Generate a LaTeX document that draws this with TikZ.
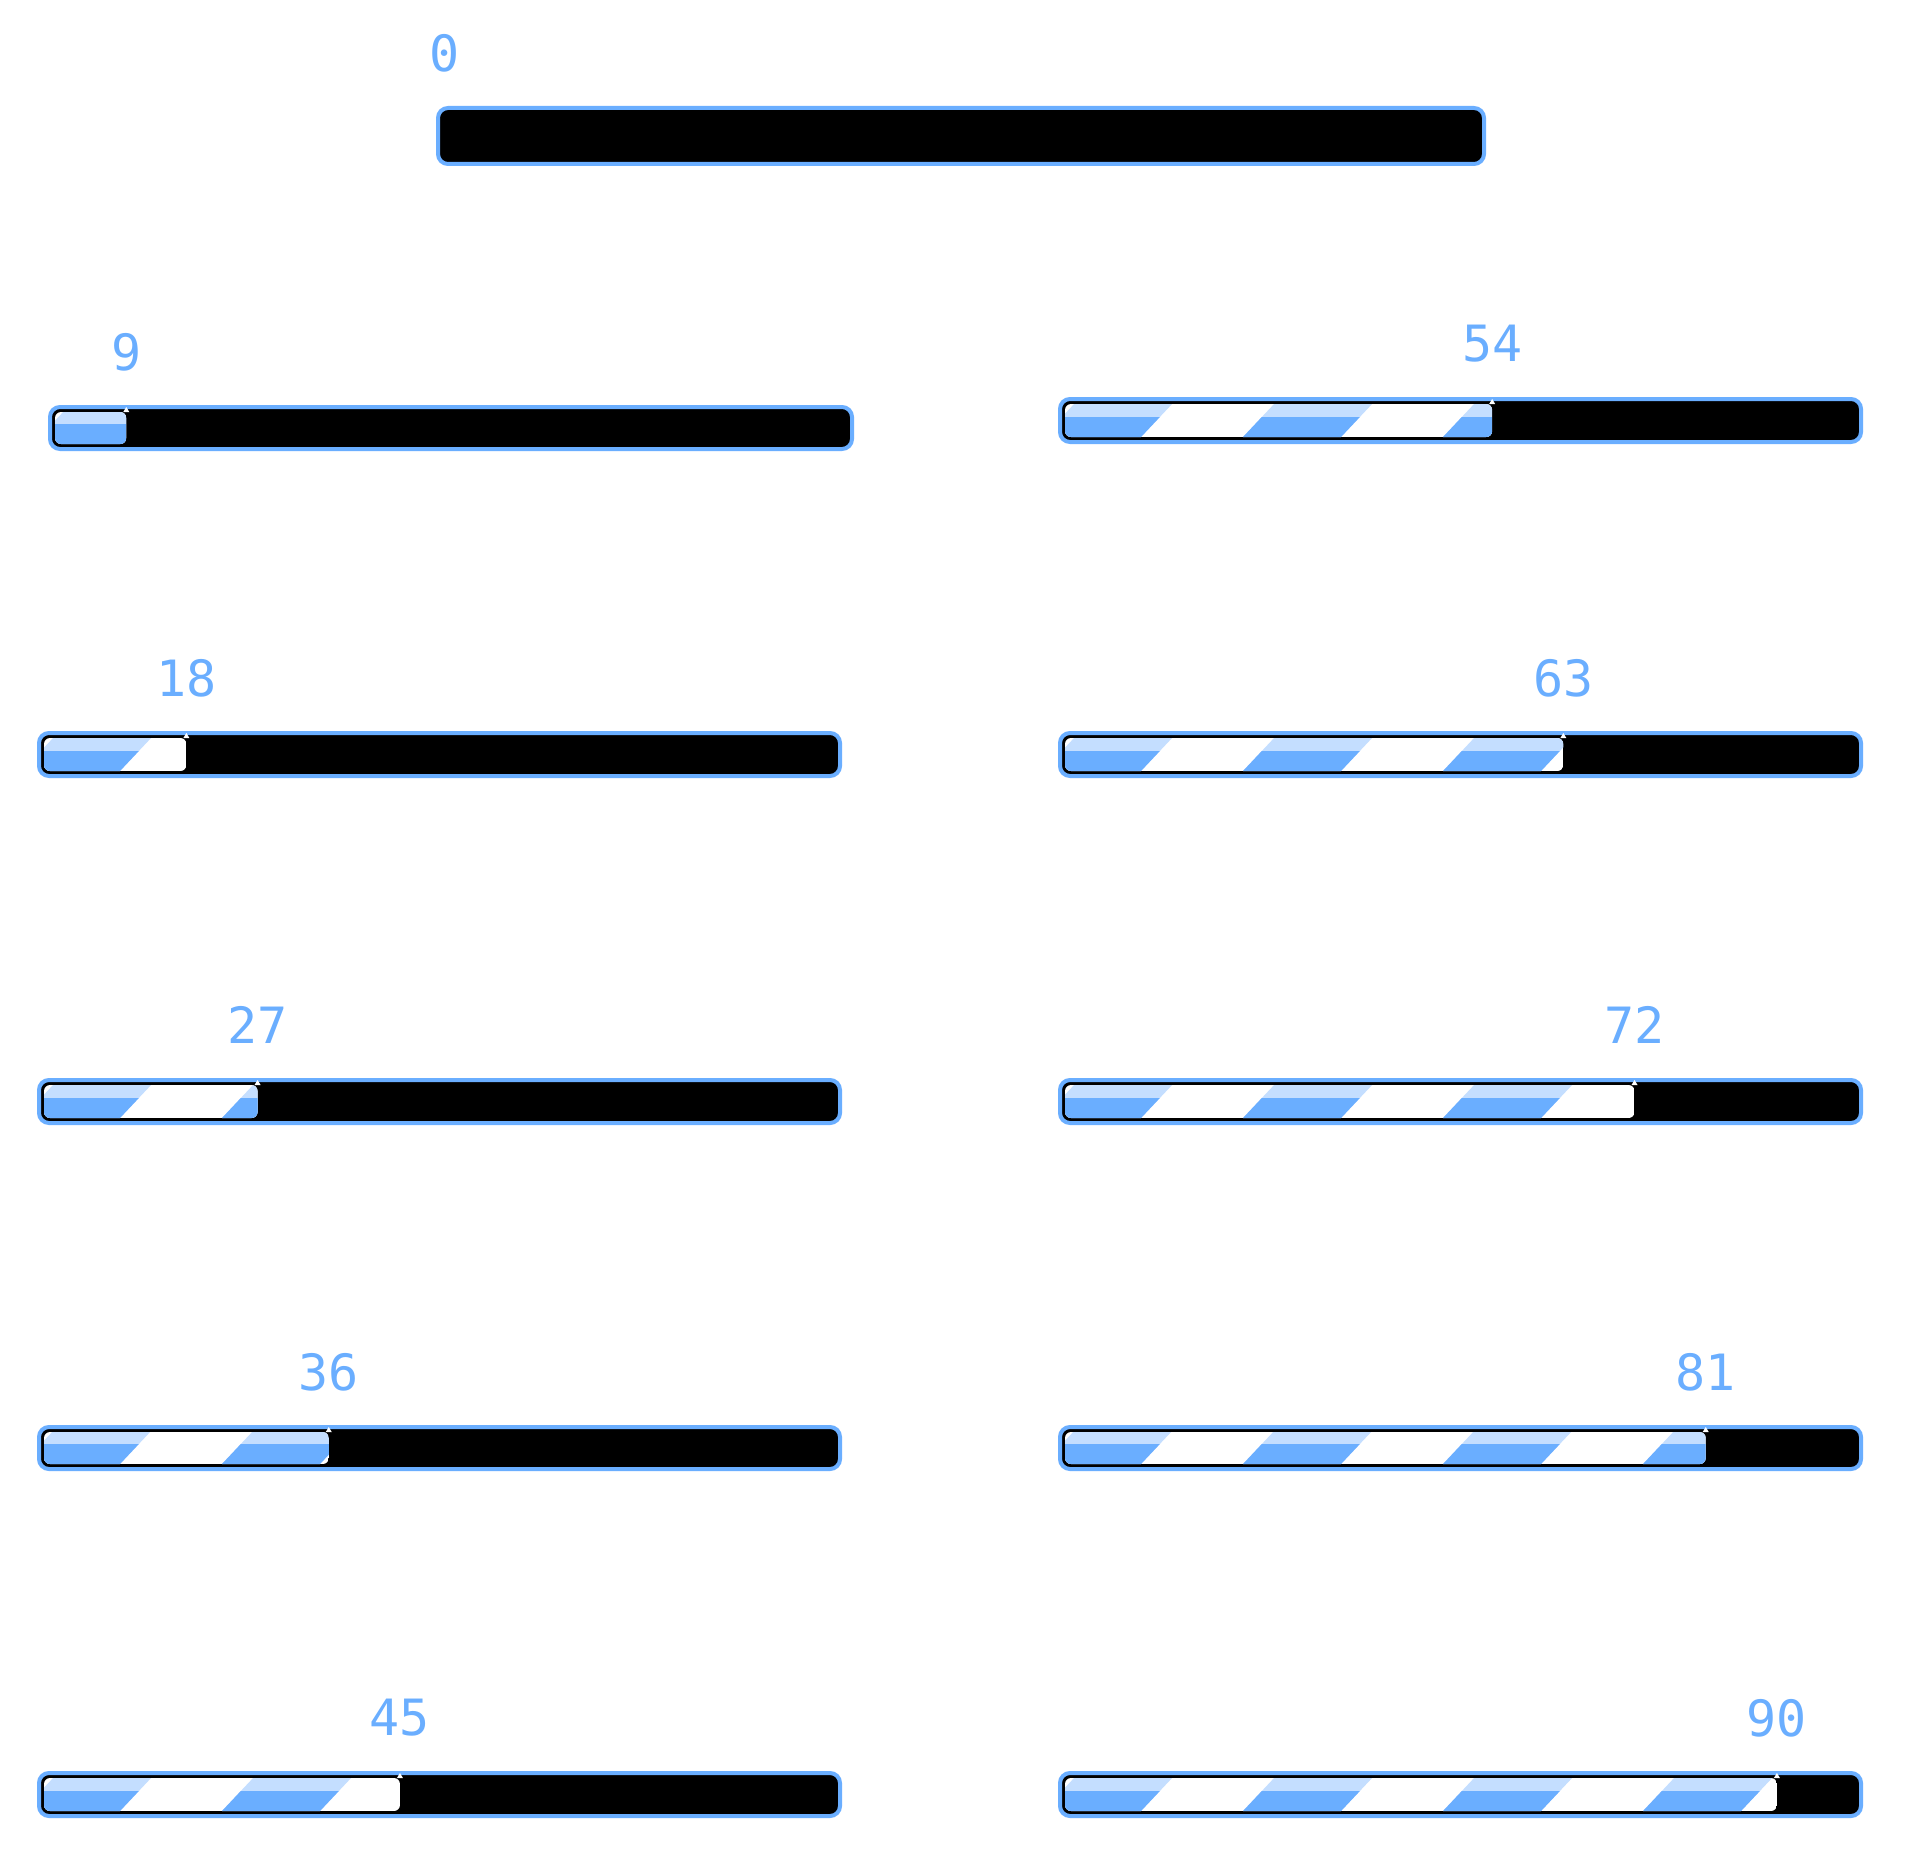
\documentclass[tikz,border=0pt]{standalone}
\usepackage{fontspec}
\setmainfont{DejaVu Sans Mono}
\definecolor{bblue}{HTML}{6AAEFF}
\definecolor{lblue}{HTML}{C4DEFF}
\newcommand\pbar[6]{%
  \draw[line width=2pt, draw=bblue, fill=black, rounded corners=5pt] (#1,#2) rectangle (#3,#4);
  \pgfmathsetmacro\xa{#1+5}\pgfmathsetmacro\ya{#2+5}\pgfmathsetmacro\yb{#4-5}
  \pgfmathsetmacro\xb{\xa+#5/100*(#3-#1-10)}
  \pgfmathsetmacro\ym{\ya+0.4*(\yb-\ya)}
  \ifdim #5pt>0pt
    \begin{scope}
      \clip[rounded corners=3pt] (\xa,\ya) rectangle (\xb,\yb);
      \fill[white] (\xa,\ya) rectangle (\xb,\yb);
      \foreach \k in {0,...,8}{
        \pgfmathsetmacro\s{\xa-22+200*\k}
        \fill[lblue] (\s,\yb) -- ++(98,0) -- ++(32,-34) -- ++(-98,0) -- cycle;
      }
      \clip (\xa,\ym) rectangle (\xb,\yb+2);
      \foreach \k in {0,...,8}{
        \pgfmathsetmacro\s{\xa-22+200*\k}
        \fill[bblue] (\s,\yb) -- ++(98,0) -- ++(32,-34) -- ++(-98,0) -- cycle;
      }
    \end{scope}
    \fill[white] (\xb-3,\ya) -- (\xb,\ya-5) -- (\xb+3,\ya) -- cycle;
    \node[lbl] (l#6) at (\xb,#2-55) {#6};
  \else
    \node[lbl] (l#6) at (\xa+2,#2-55) {#6};
  \fi
}
\begin{document}
\begin{tikzpicture}[x=0.5pt,y=-0.5pt,lbl/.style={text=bblue,font=\fontsize{25}{25}\selectfont,inner sep=0}]
\fill[white] (0,0) rectangle (1920,1872);
\useasboundingbox (0,0) rectangle (1920,1872);
\pbar{438}{108}{1484}{164}{0}{0}
\pbar{50}{407}{852}{449}{9}{9}
\pbar{39}{733}{840}{776}{18}{18}
\pbar{39}{1080}{840}{1123}{27}{27}
\pbar{39}{1427}{840}{1469}{36}{36}
\pbar{39}{1773}{840}{1816}{45}{45}
\pbar{1060}{399}{1861}{442}{54}{54}
\pbar{1060}{733}{1861}{776}{63}{63}
\pbar{1060}{1080}{1861}{1123}{72}{72}
\pbar{1060}{1427}{1861}{1469}{81}{81}
\pbar{1060}{1773}{1861}{1816}{90}{90}
\end{tikzpicture}
\end{document}
